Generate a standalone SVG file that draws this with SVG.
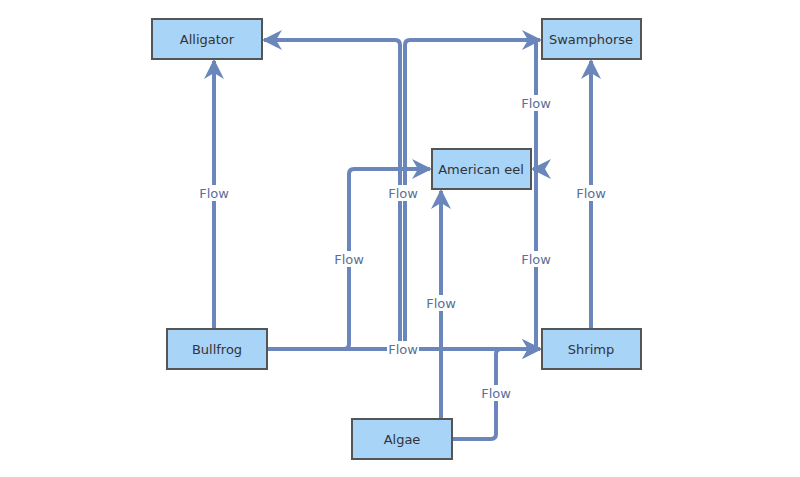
<svg xmlns="http://www.w3.org/2000/svg" width="800" height="477" viewBox="0 0 800 477">
<style>
.n rect{fill:#a8d4f8;stroke:#555;stroke-width:2}
.n text,.l{font-family:"DejaVu Sans",sans-serif;font-size:13px;fill:#333;text-anchor:middle;dominant-baseline:central}
.l{fill:#5a6f99}
.e path{fill:none;stroke:#6a86bb;stroke-width:4}
.lb{fill:#fff}
</style>
<defs><marker id="a" viewBox="0 0 10 10" refX="9" refY="5" markerWidth="5" markerHeight="5" orient="auto" markerUnits="strokeWidth"><path d="M0,0L10,5L0,10L3,5z" fill="#6a86bb"/></marker></defs>
<g class="e">
<path d="M214,329V61" marker-end="url(#a)"/>
<path d="M267,349H344q5,0 5,-5V174q0,-5 5,-5H430" marker-end="url(#a)"/>
<path d="M267,349H540" marker-end="url(#a)"/>
<path d="M441,419V191" marker-end="url(#a)"/>
<path d="M452,439H491q5,0 5,-5V354q0,-5 5,-5H540" marker-end="url(#a)"/>
<path d="M591,329V61" marker-end="url(#a)"/>
<path d="M267,349H395q5,0 5,-5V45q0,-5 -5,-5H264" marker-end="url(#a)"/>
<path d="M405,345V45q0,-5 5,-5H540" marker-end="url(#a)"/>
<path d="M536,349V40"/>
<path d="M538,169H533" marker-end="url(#a)"/>
</g>
<g>
<rect class="lb" x="198" y="185" width="32" height="16"/><text class="l" x="214" y="193">Flow</text>
<rect class="lb" x="333" y="251" width="32" height="16"/><text class="l" x="349" y="259">Flow</text>
<rect class="lb" x="387" y="185" width="32" height="16"/><text class="l" x="403" y="193">Flow</text>
<rect class="lb" x="387" y="341" width="32" height="16"/><text class="l" x="403" y="349">Flow</text>
<rect class="lb" x="425" y="295" width="32" height="16"/><text class="l" x="441" y="303">Flow</text>
<rect class="lb" x="480" y="385" width="32" height="16"/><text class="l" x="496" y="393">Flow</text>
<rect class="lb" x="575" y="185" width="32" height="16"/><text class="l" x="591" y="193">Flow</text>
<rect class="lb" x="520" y="95" width="32" height="16"/><text class="l" x="536" y="103">Flow</text>
<rect class="lb" x="520" y="251" width="32" height="16"/><text class="l" x="536" y="259">Flow</text>
</g>
<g id="alligator" class="n"><rect x="152" y="19" width="110" height="40"/><text x="207" y="39">Alligator</text></g>
<g id="swamphorse" class="n"><rect x="542" y="19" width="99" height="40"/><text x="591" y="39">Swamphorse</text></g>
<g id="eel" class="n"><rect x="432" y="149" width="99" height="40"/><text x="481" y="169">American eel</text></g>
<g id="bullfrog" class="n"><rect x="167" y="329" width="100" height="40"/><text x="217" y="349">Bullfrog</text></g>
<g id="shrimp" class="n"><rect x="542" y="329" width="99" height="40"/><text x="591" y="349">Shrimp</text></g>
<g id="algae" class="n"><rect x="352" y="419" width="100" height="40"/><text x="402" y="439">Algae</text></g>
</svg>
